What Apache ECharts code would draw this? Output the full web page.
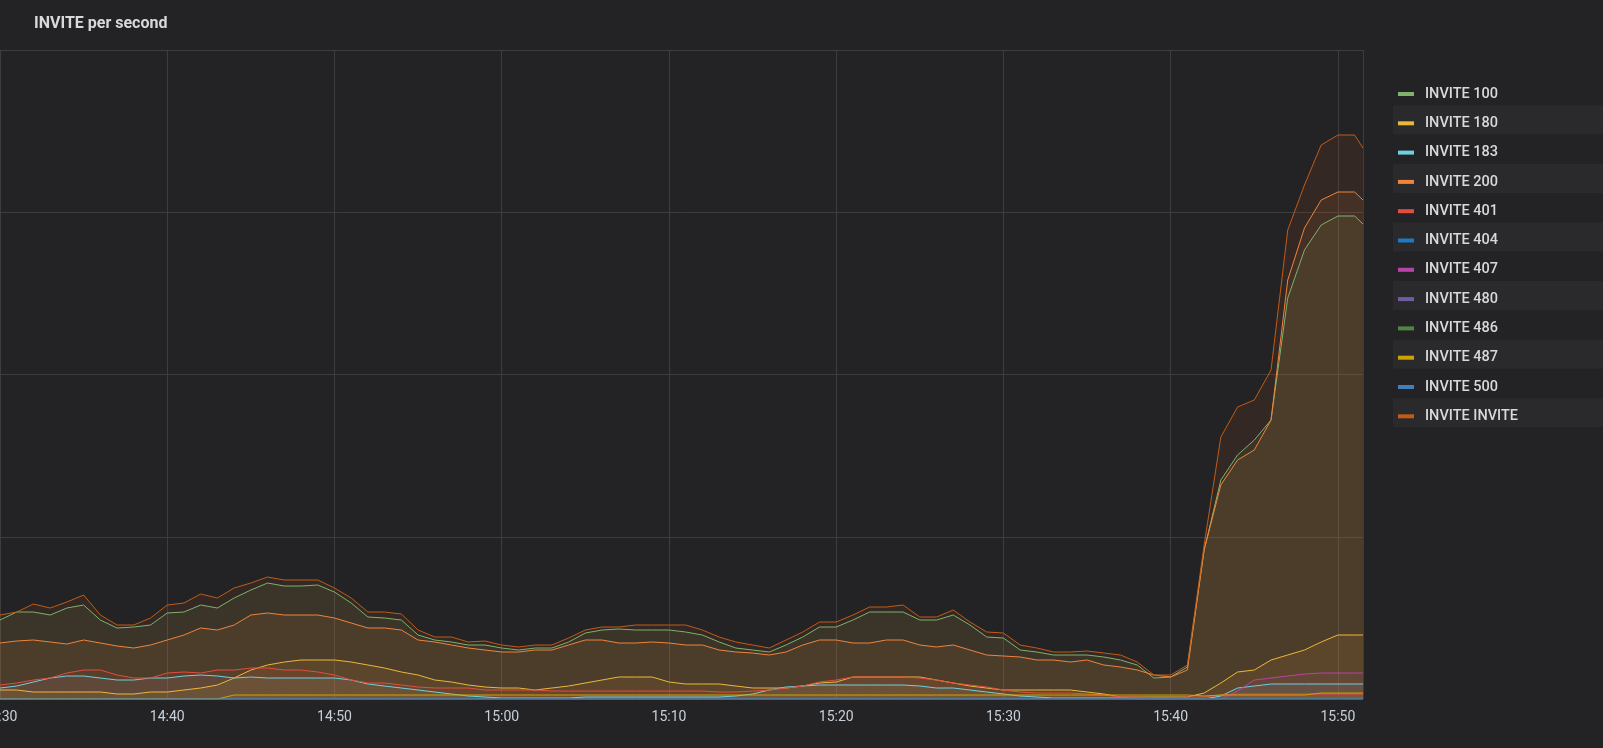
<!DOCTYPE html>
<html>
<head>
<meta charset="utf-8">
<script src="https://cdn.jsdelivr.net/npm/echarts@6/dist/echarts.min.js"></script>
<style>
  html, body { margin: 0; padding: 0; background: #232325; }
  #chart { width: 1603px; height: 748px; }
</style>
</head>
<body>
<div id="chart"></div>
<script>
// minutes after 14:30, one sample per minute, last one half a minute later
const minutes = [];
for (let i = 0; i < 82; i++) minutes.push(i);
minutes.push(81.5);

const names = ['INVITE 100', 'INVITE 180', 'INVITE 183', 'INVITE 200', 'INVITE 401', 'INVITE 404',
  'INVITE 407', 'INVITE 480', 'INVITE 486', 'INVITE 487', 'INVITE 500', 'INVITE INVITE'];
const colors = ['#7eb26d', '#eab839', '#6ed0e0', '#ef843c', '#e24d42', '#1f78c1',
  '#ba43a9', '#705da0', '#508642', '#cca300', '#447ebc', '#c15c17'];

const inviteInvite = [84,87,95,91,97,104,84,74,74,81, 94,96,105,101,111,116,122,119,119,119,
  111,101,87,87,85,69,62,62,57,58, 54,52,54,54,61,69,72,72,74,74, 74,74,69,62,57,54,51,59,67,77,
  77,84,92,92,94,82,82,89,77,67, 66,54,51,47,47,48,46,44,37,24, 24,34,154,262,292,299,329,469,514,554,
  564,564,551];
const invite100 = [79,87,87,84,91,94,79,71,72,74, 86,87,94,91,101,109,116,113,113,114,
  107,96,82,81,79,64,59,57,54,54, 51,49,51,51,57,66,69,70,69,69, 69,67,64,57,51,49,47,54,62,72,
  72,79,87,87,87,79,79,84,74,62, 61,49,47,44,44,44,42,39,34,21, 22,32,149,219,244,259,279,401,449,474,
  483,483,475];
const invite200 = [56,58,59,57,55,59,56,53,51,54, 59,64,71,69,74,84,86,84,84,84,
  81,76,71,71,69,59,57,54,51,49, 47,47,49,49,54,59,59,56,56,57, 56,54,54,49,47,46,44,47,54,59,
  59,56,56,59,59,54,52,54,49,44, 43,42,39,39,37,39,34,32,29,24, 22,29,149,214,239,249,279,419,471,499,
  507,507,499];
const invite180 = [9,9,7,7,7,7,7,5,5,7, 7,9,11,14,21,29,34,37,39,39, 39,37,34,31,27,24,19,17,14,12,
  11,11,9,11,13,16,19,22,22,22, 17,15,15,15,13,11,11,11,13,16, 17,22,22,22,22,22,19,16,13,11,
  9,9,9,9,9,7,5,2,2,2, 2,2,6,16,27,29,39,44,49,57, 64,64,64];
const invite401 = [14,16,19,21,26,29,29,24,21,21, 26,27,26,29,29,31,31,29,29,27, 24,19,16,16,14,12,11,11,11,9,
  9,9,9,8,8,8,8,8,8,8, 8,8,8,7,7,8,9,11,13,17, 19,22,22,22,22,21,19,16,14,12,
  9,7,6,6,6,5,4,2,2,1, 1,2,2,4,5,5,5,5,5,5, 5,5,5];
const invite183 = [11,13,17,21,23,23,21,19,19,21, 21,23,24,23,21,22,21,21,21,21, 21,19,15,13,11,9,7,5,3,2,
  1,1,1,1,1,2,2,2,2,2, 2,2,2,2,3,5,9,12,13,14, 14,14,14,14,14,13,11,11,9,7,
  5,3,2,1,1,1,1,1,0,0, 0,0,0,3,11,13,15,15,15,15, 15,15,15];
const invite407 = [0,0,0,0,0,0,0,0,0,0, 0,0,0,0,0,0,0,0,0,0, 0,0,0,0,0,0,0,0,0,0,
  0,0,0,0,0,0,0,0,0,0, 0,0,0,0,0,0,0,0,0,0, 0,0,0,0,0,0,0,0,0,0,
  0,0,0,0,0,0,0,0,0,0, 0,0,0,0,8,19,21,23,25,26, 26,26,26];
const invite487 = [0,0,0,0,0,0,0,0,0,0, 0,0,0,0,4,4,4,4,4,4, 4,4,4,4,4,4,4,4,4,4,
  4,4,4,4,4,4,4,4,4,4, 4,4,4,4,4,4,4,4,4,4, 4,4,4,4,4,4,4,4,4,4,
  4,4,4,4,4,4,4,4,4,4, 4,4,3,4,4,4,4,4,4,6, 6,6,6];
const invite480 = [0,0,0,0,0,0,0,0,0,0, 0,0,0,0,0,0,0,0,0,0, 0,0,0,0,0,0,0,0,0,0,
  0,0,0,0,0,0,0,0,0,0, 0,0,0,0,0,0,0,0,0,0, 0,0,0,0,0,0,0,0,0,0,
  0,0,0,0,0,0,0,0,0,0, 0,0,0,0,0,1,1,1,1,1, 1,1,1];
const zeros = minutes.map(() => 0);

const values = {
  'INVITE 100': invite100, 'INVITE 180': invite180, 'INVITE 183': invite183, 'INVITE 200': invite200,
  'INVITE 401': invite401, 'INVITE 404': zeros, 'INVITE 407': invite407, 'INVITE 480': invite480,
  'INVITE 486': zeros, 'INVITE 487': invite487, 'INVITE 500': zeros, 'INVITE INVITE': inviteInvite
};

const series = names.map((n, i) => ({
  name: n,
  type: 'line',
  symbol: 'none',
  color: colors[i],
  lineStyle: { width: 1 },
  areaStyle: { opacity: 0.1 },
  data: minutes.map((m, k) => [m, values[n][k]])
}));

// striped legend rows
const rows = [];
for (let r = 1; r < 12; r += 2) {
  rows.push({ type: 'rect', left: 1393, top: 76 + r * 29.3, z: -1,
    shape: { width: 210, height: 29 }, style: { fill: '#2a2a2c' } });
}

const chart = echarts.init(document.getElementById('chart'));
chart.setOption({
  backgroundColor: '#232325',
  animation: false,
  title: { text: 'INVITE per second', left: 29, top: 11,
    textStyle: { color: '#d8d9da', fontSize: 16, fontWeight: 'bold', fontFamily: 'Roboto' } },
  graphic: rows,
  legend: {
    orient: 'vertical', left: 1393, top: 81, icon: 'rect', itemWidth: 16, itemHeight: 4,
    itemGap: 13.3,
    textStyle: { color: '#d8d9da', fontSize: 14.5, fontWeight: 500, fontFamily: 'Roboto',
      lineHeight: 16, padding: [0, 0, 0, 6] },
    data: names
  },
  grid: { left: 0, right: 240, top: 50, bottom: 49, outerBoundsMode: 'none', containLabel: false },
  xAxis: {
    type: 'value', min: 0, max: 81.5, interval: 10,
    axisLine: { show: false }, axisTick: { show: false },
    splitLine: { lineStyle: { color: '#3d3d40' } },
    axisLabel: { color: '#c7d0d9', fontSize: 14, fontFamily: 'Roboto', margin: 11, showMaxLabel: false,
      formatter: v => { const t = 14 * 60 + 30 + v; return Math.floor(t / 60) + ':' + String(t % 60).padStart(2, '0'); } }
  },
  yAxis: {
    type: 'value', min: 0, max: 649, interval: 162.25,
    axisLabel: { show: false }, axisLine: { show: false }, axisTick: { show: false },
    splitLine: { lineStyle: { color: '#3d3d40' } }
  },
  series: series
});
</script>
</body>
</html>
